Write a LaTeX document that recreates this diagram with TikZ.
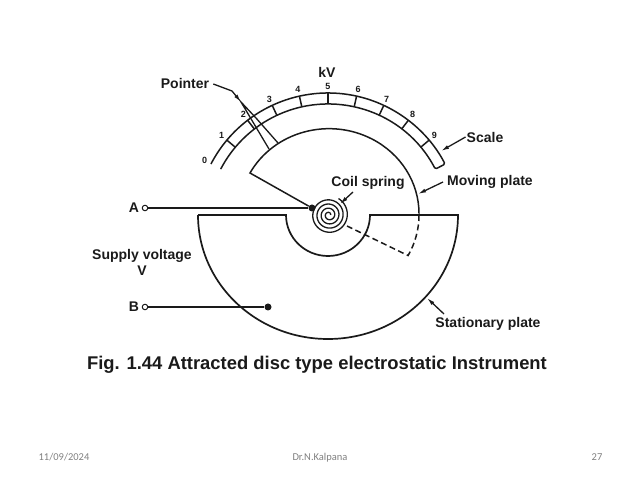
\documentclass[tikz,border=0pt]{standalone}
\usepackage{fontspec}
\usetikzlibrary{arrows.meta}
\setmainfont{Liberation Sans}
\newfontfamily\footfont{Carlito}
\definecolor{inkc}{HTML}{1A1A1A}
\tikzset{
    lbl/.style={inner sep=0pt, text=inkc, font=\fontsize{14}{16}\selectfont\bfseries},
    foot/.style={inner sep=0pt, anchor=base, text=black!50, font=\fontsize{10.5}{12}\footfont},
    term/.style={circle, draw=inkc, fill=white, line width=1pt, minimum size=5.5pt, inner sep=0pt},
    dot/.style={circle, fill=inkc, minimum size=7pt, inner sep=0pt},
    lead/.style={-{Latex[length=8pt,width=4pt]}, line width=1.3pt, color=inkc},
    plate/.style={line width=1.5pt, color=inkc}
}
\begin{document}
\begin{tikzpicture}[x=1pt, y=-1pt]
    \useasboundingbox (0,0) rectangle (638,478);
    % scale
    \draw[plate, rounded corners=1.5pt] ([shift={(328,225)}]-152.5:132) arc[start angle=-152.5, end angle=-27.5, radius=132]
        -- ([shift={(328,225)}]-27.5:121) arc[start angle=-27.5, end angle=-152.5, radius=121];
    \foreach \n in {1,...,9}
    \draw[plate, shift={(328,225)}] ({-152.5+12.5*\n}:132) -- ({-152.5+12.5*\n}:121);
    \foreach \n in {0,...,9}
    \node[inner sep=0pt, text=inkc, font=\fontsize{9}{10}\selectfont\bfseries, shift={(328,225)}] (tick\n) at ({-152.5+12.5*\n}:139) {\n};
    \node[lbl] (kv) at (327,72) {kV};
    % moving plate
    \coordinate (corner) at (250,173);
    \coordinate (edge) at (419,215);
    \coordinate (far) at (407,257);
    \coordinate (hub) at (347,226);
    \node[dot] (pin) at (312,208) {};
    \draw[plate] (pin) -- (corner) arc[start angle=208.6, end angle=360, x radius=90, y radius=85];
    \draw[plate, dash pattern=on 6pt off 3.5pt] (edge) arc[start angle=0, end angle=28.5, x radius=90, y radius=85] -- (hub);
    % pointer
    \coordinate (tip) at (241,102);
    \coordinate (pa) at (269,149);
    \coordinate (pb) at (278,143);
    \draw[line width=1.3pt, color=inkc] (pa) -- (tip) -- (256,118) -- (pb);
    % stationary plate
    \draw[plate, line width=1.7pt] (198,215) -- (286,215) arc[start angle=180, end angle=0, x radius=42, y radius=41]
        -- (458,215) arc[start angle=0, end angle=180, x radius=130, y radius=124];
    % coil spring
    \draw[line width=1.3pt, color=inkc, shift={(329,215)}] plot[domain=0:1500, samples=240, smooth] ({-\x}:{1.5+\x/1500*17.5});
    % terminals
    \node[term] (a) at (145,208) {};
    \node[term] (b) at (145,307) {};
    \node[dot] (bdot) at (268,307) {};
    \node[lbl] at (134,208) (alab) {A};
    \node[lbl] at (134,307) (blab) {B};
    \draw[plate] (a) -- (pin);
    \draw[plate] (b) -- (bdot);
    \node[lbl] (supply) at (142,256) {Supply voltage};
    \node[lbl] (volt) at (142,271) {V};
    % labels
    \node[lbl] (pointer) at (185,83) {Pointer};
    \draw[lead] ([shift={(4,1)}]pointer.east) -- (232,91) -- (tip);
    \node[lbl] (scale) at (485,137) {Scale};
    \coordinate (sc) at (441,151);
    \draw[lead] ([xshift=-1pt]scale.west) -- (sc);
    \node[lbl] (moving) at (490,182) {Moving plate};
    \coordinate (mv) at (418,194);
    \draw[lead] ([xshift=-4pt]moving.west) -- (mv);
    \node[lbl] (coil) at (368,183) {Coil spring};
    \coordinate (cs) at (340,204);
    \draw[lead] ([shift={(-15,9)}]coil.center) -- (cs);
    \node[lbl] (stat) at (488,324) {Stationary plate};
    \coordinate (st) at (427,298);
    \draw[lead] ([shift={(-44,-10)}]stat.center) -- (st);
    % caption and footer
    \node[lbl, font=\fontsize{18.4}{21}\selectfont\bfseries] (caption) at (317,365) {Fig. 1.44 Attracted disc type electrostatic Instrument};
    \node[foot] (date) at (64,461) {11/09/2024};
    \node[foot] (author) at (320,461) {Dr.N.Kalpana};
    \node[foot] (page) at (597,461) {27};
\end{tikzpicture}
\end{document}
